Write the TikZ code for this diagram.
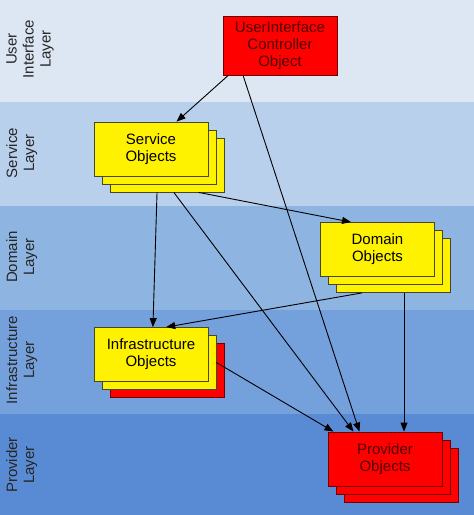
\documentclass[tikz,border=0pt]{standalone}
\usepackage{fontspec}
\setmainfont{Liberation Sans}
\usetikzlibrary{arrows.meta}

\definecolor{uiband}{RGB}{221,231,244}
\definecolor{serviceband}{RGB}{185,208,236}
\definecolor{domainband}{RGB}{142,180,226}
\definecolor{infraband}{RGB}{116,160,220}
\definecolor{providerband}{RGB}{89,139,213}
\definecolor{rededge}{RGB}{110,0,0}
\definecolor{yellowedge}{RGB}{70,70,40}
\definecolor{redtext}{RGB}{80,0,0}

\tikzset{
  objbox/.style={line width=0.8pt, minimum width=114pt, minimum height=54pt,
    inner sep=0pt, align=center, font=\fontsize{15}{17}\selectfont},
  yellowbox/.style={objbox, fill=yellow, draw=yellowedge},
  redbox/.style={objbox, fill=red, draw=rededge, text=redtext},
  layerlabel/.style={rotate=90, anchor=north, inner sep=0pt, align=center,
    font=\fontsize{15}{17}\selectfont, text=black!85},
  link/.style={->, line width=0.9pt}
}

\begin{document}
\begin{tikzpicture}[x=1pt, y=-1pt, >={Triangle[length=9pt,width=7pt]}]
\useasboundingbox (0,0) rectangle (474,515);
% layer bands
\foreach \top/\bot/\col in {0/102/uiband, 102/206/serviceband, 206/310/domainband,
    310/414/infraband, 414/515/providerband}
  \fill[\col] (0,\top) rectangle (474,\bot);
\node[layerlabel] (lblui) at (6,49) {User\\Interface\\Layer};
\node[layerlabel] (lblsvc) at (6,153) {Service\\Layer};
\node[layerlabel] (lbldom) at (6,257) {Domain\\Layer};
\node[layerlabel] (lblinf) at (6,360) {Infrastructure\\Layer};
\node[layerlabel] (lblprov) at (6,465) {Provider\\Layer};

% objects
\node[redbox, minimum height=59pt] (ui) at (280,45.5) {UserInterface\\Controller\\Object};
\foreach \d in {16,8}
  \node[yellowbox] (svc\d) at (151+\d,149+\d) {};
\node[yellowbox] (svc) at (151,149) {Service\\Objects};
\foreach \d in {16,8}
  \node[yellowbox] (dom\d) at (377.5+\d,249.5+\d) {};
\node[yellowbox] (dom) at (377.5,249.5) {Domain\\Objects};
\node[redbox] (inf16) at (167,370.5) {};
\node[yellowbox] (inf8) at (159,362.5) {};
\node[yellowbox] (inf) at (151,354.5) {Infrastructure\\Objects};
\foreach \d in {16,8}
  \node[redbox] (prov\d) at (385+\d,459+\d) {};
\node[redbox] (prov) at (385,459) {Provider\\Objects};

% connectors
\draw[link] (ui.210) -- (svc.47);
\draw[link] (ui.219) -- (prov.133);
\draw[link] (svc16.250) -- (inf.86);
\draw[link] (svc16.-76) -- (prov.139);
\draw[link] (svc16.-41) -- (dom.134);
\draw[link] (dom16.221) -- (inf.61);
\draw[link] (dom16.-69) -- (dom16.-69 |- prov.north);
\draw[link] (inf8.east) -- (prov.152);
\end{tikzpicture}
\end{document}
